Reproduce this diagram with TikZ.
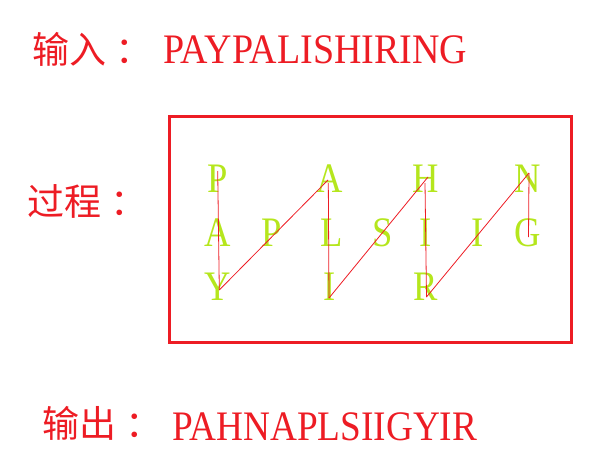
\documentclass[tikz,border=0pt]{standalone}
\usepackage{fontspec}
\usepackage{graphicx}
\newfontfamily\cjk{Noto Sans CJK SC}
\newfontfamily\latf{Liberation Serif}
\definecolor{pred}{RGB}{237,28,36}
\definecolor{plime}{RGB}{181,230,29}
\newcommand\fitw[2]{\resizebox{#1}{\height}{#2}}
\begin{document}
\begin{tikzpicture}[x=1pt,y=-1pt,
  cjktxt/.style={anchor=base west,inner sep=0pt,text=pred,font=\cjk\fontsize{37}{37}\selectfont},
  lattxt/.style={anchor=base west,inner sep=0pt,text=pred,font=\latf\fontsize{42}{42}\selectfont},
  gridch/.style={anchor=base,inner sep=0pt,text=plime,font=\latf\fontsize{42}{42}\selectfont},
  zig/.style={draw=pred,line width=0.8pt}]
\useasboundingbox (0,0) rectangle (601,463);
% titles
\node[cjktxt] (inlab) at (32,63) {输入\hspace{9pt}：};
\node[lattxt] (intxt) at (163,63) {\fitw{304pt}{PAYPALISHIRING}};
\node[cjktxt] (proclab) at (27,215) {过程\hspace{9pt}：};
\node[cjktxt] (outlab) at (42,437) {输出\hspace{9pt}：};
\node[lattxt] (outtxt) at (172,440) {\fitw{305pt}{PAHNAPLSIIGYIR}};
% box
\draw[pred,line width=3pt] (169.5,116.5) rectangle (571.3,342);
% grid letters
\node[gridch] (r1a) at (218,192) {\scalebox{0.87}[1]{P}};
\node[gridch] (r1b) at (330,192) {\scalebox{0.87}[1]{A}};
\node[gridch] (r1c) at (426,192) {\scalebox{0.87}[1]{H}};
\node[gridch] (r1d) at (528,192) {\scalebox{0.87}[1]{N}};
\node[gridch] (r2a) at (218,246) {\scalebox{0.87}[1]{A}};
\node[gridch] (r2b) at (272,246) {\scalebox{0.87}[1]{P}};
\node[gridch] (r2c) at (332,246) {\scalebox{0.87}[1]{L}};
\node[gridch] (r2d) at (383,246) {\scalebox{0.87}[1]{S}};
\node[gridch] (r2e) at (426,246) {\scalebox{0.87}[1]{I}};
\node[gridch] (r2f) at (478,246) {\scalebox{0.87}[1]{I}};
\node[gridch] (r2g) at (528,246) {\scalebox{0.87}[1]{G}};
\node[gridch] (r3a) at (218,300) {\scalebox{0.87}[1]{Y}};
\node[gridch] (r3b) at (330,300) {\scalebox{0.87}[1]{I}};
\node[gridch] (r3c) at (426,300) {\scalebox{0.87}[1]{R}};
% zigzag points
\coordinate (pTop) at (217.7,171);
\coordinate (yBot) at (219.3,290);
\coordinate (aTop) at (328,180);
\coordinate (aTop2) at (328.3,183);
\coordinate (iBot) at (329,298);
\coordinate (hTop) at (428,177);
\coordinate (hTop2) at (425,183);
\coordinate (rBot) at (426.5,297);
\coordinate (nTop) at (529,173);
\coordinate (gEnd) at (528.5,237);
\draw[zig] (pTop) -- (yBot);
\draw[zig] (yBot) -- (aTop);
\draw[zig] (aTop2) -- (iBot);
\draw[zig] (iBot) -- (hTop);
\draw[zig] (hTop2) -- (rBot);
\draw[zig] (rBot) -- (nTop);
\draw[zig] (nTop) -- (gEnd);
\end{tikzpicture}
\end{document}
